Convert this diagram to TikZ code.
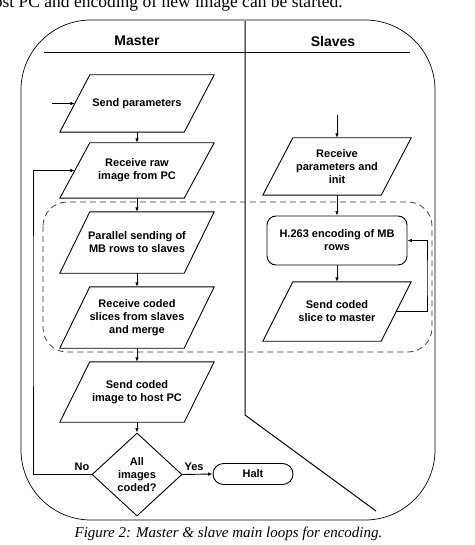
\documentclass[tikz,border=0pt]{standalone}
\usepackage{fontspec}
\setmainfont{Liberation Serif}
\newfontfamily\dfont{Liberation Sans}
\usetikzlibrary{arrows.meta,shapes.geometric}
\begin{document}
\begin{tikzpicture}[x=1pt,y=-1pt,
  txt/.style={font=\dfont\bfseries\fontsize{11}{13}\selectfont, align=center, inner sep=0pt},
  pnode/.style={txt, minimum width=124pt},
  snode/.style={txt, minimum width=118pt},
  boxline/.style={line width=0.9pt, line join=miter},
  arr/.style={line width=0.9pt, -{Latex[length=4.5pt,width=3.6pt]}},
  hdr/.style={font=\dfont\bfseries\fontsize{14}{16}\selectfont, inner sep=0pt}
]
\useasboundingbox (0,0) rectangle (474,545);

% page text
\node[anchor=base east, inner sep=0pt, font=\fontsize{17.5}{20}\selectfont] (toptext) at (343,8) {host PC and encoding of new image can be started.};
\node[anchor=base, inner sep=0pt, font=\itshape\fontsize{15}{18}\selectfont] (caption) at (228.5,537) {Figure 2: Master \& slave main loops for encoding.};

% frame
\draw[line width=0.7pt, rounded corners=70pt] (21,20) rectangle (435,520);
\draw[line width=1pt] (245,21) -- (245,415) -- (376,511);
\draw[line width=0.9pt] (44,52) -- (410,52);
\node[hdr] (mh) at (137,41) {Master};
\node[hdr] (slh) at (333,41) {Slaves};

% dashed parallel region
\draw[dash pattern=on 6pt off 4pt, gray!45!black, line width=0.75pt, rounded corners=24pt] (43,202) rectangle (432,352);

% master column
\node[pnode, minimum height=57pt] (sp) at (137,103.5) {Send parameters};
\node[pnode, minimum height=55pt] (rr) at (137,170.5) {Receive raw\\image from PC};
\node[pnode, minimum height=61pt] (ps) at (137,242.5) {Parallel sending of\\MB rows to slaves};
\node[pnode, minimum height=61pt] (rc) at (137,317.5) {Receive coded\\slices from slaves\\and merge};
\node[pnode, minimum height=60pt] (si) at (137,392) {Send coded\\image to host PC};
\node[txt, draw, boxline, shape=diamond, minimum width=90pt, minimum height=83pt] (dec) at (137,474.5) {All\\images\\coded?};
\node[txt, draw, boxline, rounded corners=10.5pt, minimum width=80pt, minimum height=21pt] (halt) at (253,474) {Halt};

% slave column
\node[snode, minimum height=57pt] (rp) at (337,166.5) {Receive\\parameters and\\init};
\node[txt, draw, boxline, rounded corners=9pt, minimum width=140pt, minimum height=49pt] (h263) at (337,240.5) {H.263 encoding of MB\\rows};
\node[snode, minimum height=59pt] (sc) at (337,311.5) {Send coded\\slice to master};

% parallelogram outlines
\foreach \n in {sp,rr,ps,rc,si,rp,sc}
  \draw[boxline] ([xshift=15pt]\n.north west) -- ([xshift=15pt]\n.north east)
     -- ([xshift=-15pt]\n.south east) -- ([xshift=-15pt]\n.south west) -- cycle;

% helper coordinates
\coordinate (startM) at (52,103.5);
\coordinate (startS) at (337,115);
\coordinate (loopL) at (33,300);
\coordinate (fbR) at (427,280);

% connectors
\draw[arr] (startM) -- (sp.west);
\draw[arr] (sp.south) -- (rr.north);
\draw[arr] (rr.south) -- (ps.north);
\draw[arr] (ps.south) -- (rc.north);
\draw[arr] (rc.south) -- (si.north);
\draw[arr] (si.south) -- (dec.north);
\draw[arr] (dec.east) -- (halt.west);
\draw[arr] (dec.west) -| (loopL) |- (rr.west);
\draw[arr] (startS) -- (rp.north);
\draw[arr] (rp.south) -- (h263.north);
\draw[arr] (h263.south) -- (sc.north);
\draw[arr] (sc.east) -| (fbR) |- (h263.east);

% branch labels
\node[txt] (nolab) at (82,467) {No};
\node[txt] (yeslab) at (194,467) {Yes};
\end{tikzpicture}
\end{document}
